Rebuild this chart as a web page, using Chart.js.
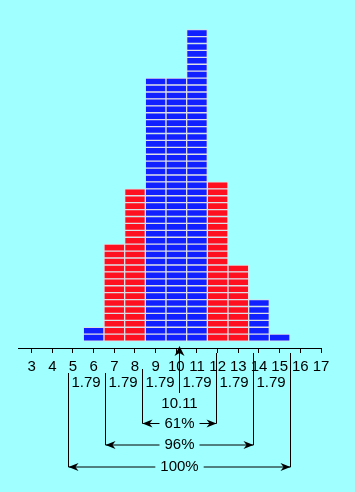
<!DOCTYPE html>
<html>
<head>
<meta charset="utf-8">
<script src="https://cdn.jsdelivr.net/npm/chart.js@4.4.1/dist/chart.umd.min.js"></script>
<style>
  html, body { margin: 0; padding: 0; background: #a0ffff; }
  canvas { display: block; }
</style>
</head>
<body>
<canvas id="chart" width="355" height="492"></canvas>
<script>
const binCenters = [6, 7, 8, 9, 10, 11, 12, 13, 14, 15];
const binCounts = [2, 14, 22, 38, 38, 45, 23, 11, 6, 1];
const xTickValues = [3, 4, 5, 6, 7, 8, 9, 10, 11, 12, 13, 14, 15, 16, 17];

// summary shown under the axis
const meanValue = 10.11;
const sdValue = 1.79;
const sdLabels = ['1.79', '1.79', '1.79', '1.79', '1.79', '1.79'];
const meanLabel = '10.11';
const coverageLabels = ['61%', '96%', '100%'];

const BLUE = '#1020ff';
const RED = '#ff1020';
const FONT = '15px "Liberation Sans", Arial, sans-serif';

// boxes between 1 and 2 sd from the mean are red, the rest blue
function colorFor(x) {
  const d = Math.abs(x - meanValue);
  return (d > sdValue && d <= 2 * sdValue) ? RED : BLUE;
}

// one dataset per layer so every box gets its own grey frame
const maxCount = Math.max(...binCounts);
const datasets = [];
for (let k = 0; k < maxCount; k++) {
  datasets.push({
    data: binCenters.map((x, i) => ({ x: x, y: binCounts[i] > k ? 1 : null })),
    backgroundColor: binCenters.map(colorFor),
    borderColor: '#dedee6',
    borderWidth: 1,
    borderSkipped: false,
    barPercentage: 1,
    categoryPercentage: 1
  });
}

function arrowHead(ctx, x, y, angle, half) {
  ctx.save();
  ctx.translate(x, y);
  ctx.rotate(angle);
  ctx.beginPath();
  ctx.moveTo(0, 0);
  ctx.lineTo(-10, -half);
  ctx.lineTo(-7, 0);
  ctx.lineTo(-10, half);
  ctx.closePath();
  ctx.fill();
  ctx.restore();
}

// sd markers, mean arrow and coverage arrows below the axis
const sdMarks = {
  id: 'sdMarks',
  afterDraw(chart) {
    const ctx = chart.ctx;
    const xs = chart.scales.x;
    const axisY = chart.chartArea.bottom;
    const px = v => Math.round(xs.getPixelForValue(v)) + 0.5;
    const mx = px(meanValue);

    ctx.save();
    ctx.strokeStyle = '#000';
    ctx.fillStyle = '#000';
    ctx.lineWidth = 1;
    ctx.font = FONT;
    ctx.textAlign = 'center';
    ctx.textBaseline = 'middle';

    // vertical lines at mean +- k*sd
    const arrowRows = [axisY + 75.5, axisY + 97, axisY + 119];
    const lineTops = { '-3': 25, '-2': 25, '-1': 21, '1': 5, '2': 5, '3': 5 };
    [-3, -2, -1, 1, 2, 3].forEach(k => {
      const x = px(meanValue + k * sdValue);
      ctx.beginPath();
      ctx.moveTo(x, axisY + lineTops[k]);
      ctx.lineTo(x, arrowRows[Math.abs(k) - 1]);
      ctx.stroke();
    });

    // sd width labels between the lines
    sdLabels.forEach((t, i) => {
      const a = xs.getPixelForValue(meanValue + (i - 3) * sdValue);
      const b = xs.getPixelForValue(meanValue + (i - 2) * sdValue);
      ctx.fillText(t, (a + b) / 2, axisY + 34.5);
    });

    // mean arrow
    ctx.beginPath();
    ctx.moveTo(mx, axisY + 4);
    ctx.lineTo(mx, axisY + 45);
    ctx.stroke();
    arrowHead(ctx, mx, axisY - 2, -Math.PI / 2, 5);
    ctx.fillText(meanLabel, mx, axisY + 55.5);

    // coverage arrows
    coverageLabels.forEach((t, i) => {
      const k = i + 1;
      const y = arrowRows[i];
      const xl = px(meanValue - k * sdValue);
      const xr = px(meanValue + k * sdValue);
      const w = ctx.measureText(t).width;
      ctx.beginPath();
      ctx.moveTo(xl, y);
      ctx.lineTo(mx - w / 2 - 5, y);
      ctx.moveTo(mx + w / 2 + 5, y);
      ctx.lineTo(xr, y);
      ctx.stroke();
      arrowHead(ctx, xl, y, Math.PI, 4);
      arrowHead(ctx, xr, y, 0, 4);
      ctx.fillText(t, mx, y);
    });
    ctx.restore();
  }
};

new Chart(document.getElementById('chart').getContext('2d'), {
  type: 'bar',
  data: { datasets: datasets },
  options: {
    responsive: false,
    animation: false,
    events: [],
    layout: { padding: { left: 18, right: 34, top: 2, bottom: 0 } },
    plugins: { legend: { display: false }, tooltip: { enabled: false } },
    scales: {
      x: {
        type: 'linear',
        stacked: true,
        offset: false,
        min: 2.34,
        max: 17,
        afterBuildTicks: axis => { axis.ticks = xTickValues.map(v => ({ value: v })); },
        afterFit: axis => { axis.height = 144; },
        ticks: { color: '#000', font: { family: '"Liberation Sans", Arial, sans-serif', size: 15 }, padding: 5, maxRotation: 0, autoSkip: false },
        grid: { drawOnChartArea: false, drawTicks: true, tickLength: 5, color: '#000', lineWidth: 1, offset: false },
        border: { display: true, color: '#000', width: 1 }
      },
      y: {
        display: false,
        stacked: true,
        min: -1,
        max: 49
      }
    }
  },
  plugins: [sdMarks]
});
</script>
</body>
</html>
